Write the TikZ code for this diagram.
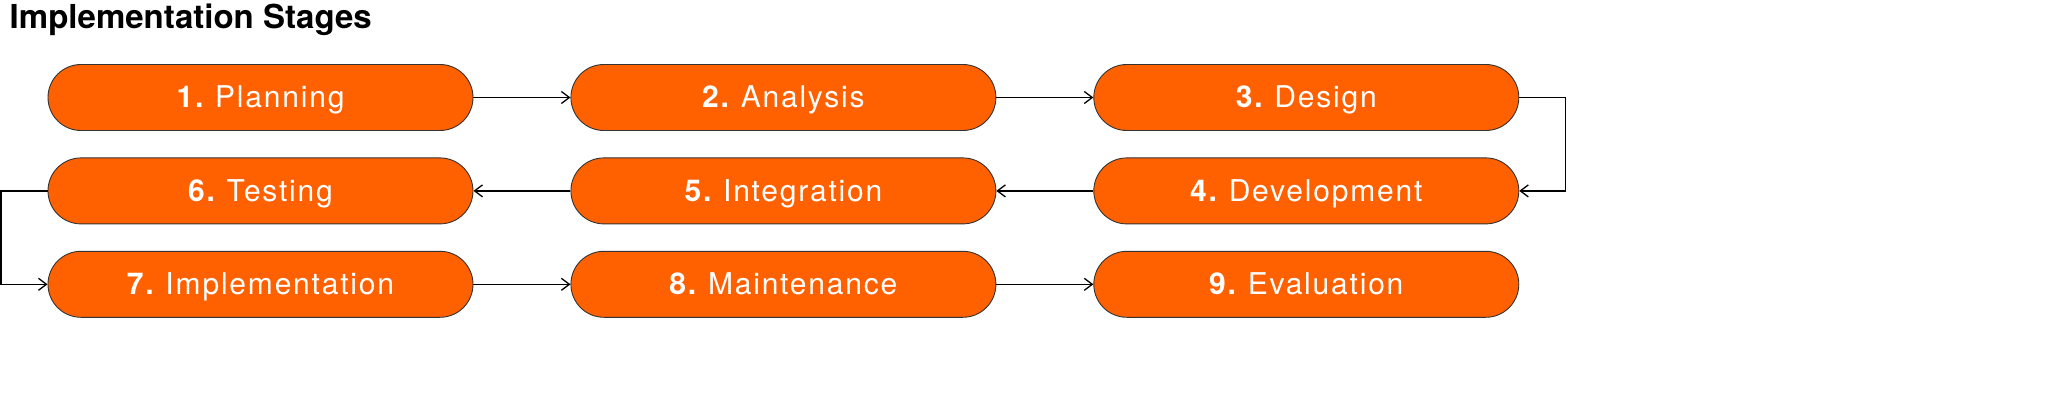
\documentclass[tikz,border=0pt]{standalone}
\usepackage{fontspec}
\setmainfont{TeX Gyre Heros}
\newfontfamily\stagefont[LetterSpace=6]{TeX Gyre Heros}
\usetikzlibrary{arrows.meta,positioning}
\definecolor{stageorange}{HTML}{FF6000}
\definecolor{stageline}{HTML}{333333}

\begin{document}
\begin{tikzpicture}[x=1pt,y=-1pt,->,>={Straight Barb[length=8pt,width=12pt]},
                    line width=1.3pt,node distance=26.5pt and 97pt]
  \tikzstyle{every stage}=[draw=stageline,line width=0.9pt,fill=stageorange,
        rounded corners=33pt,minimum width=425pt,minimum height=66pt,
        text=white,text height=21pt,text depth=0pt,inner sep=0pt,
        font=\stagefont\fontsize{30}{36}\selectfont]
  \useasboundingbox (0,0) rectangle (2048,414);

  \node[anchor=base west,inner sep=0pt,font=\bfseries\fontsize{33}{40}\selectfont]
        (title) at (9,29) {Implementation Stages};

  \node[every stage] (1) at (260.5,97.5) {\textbf{1.}\hspace{10pt}Planning};
  \node[every stage] (2) [right=of 1]    {\textbf{2.}\hspace{10pt}Analysis};
  \node[every stage] (3) [right=of 2]    {\textbf{3.}\hspace{10pt}Design};

  \node[every stage] (4) [below=of 3]    {\textbf{4.}\hspace{10pt}Development};
  \node[every stage] (5) [left=of 4]     {\textbf{5.}\hspace{10pt}Integration};
  \node[every stage] (6) [left=of 5]     {\textbf{6.}\hspace{10pt}Testing};

  \node[every stage] (7) [below=of 6]    {\textbf{7.}\hspace{10pt}Implementation};
  \node[every stage] (8) [right=of 7]    {\textbf{8.}\hspace{10pt}Maintenance};
  \node[every stage] (9) [right=of 8]    {\textbf{9.}\hspace{10pt}Evaluation};

  \path (1) edge (2)
        (2) edge (3)
        (4) edge (5)
        (5) edge (6)
        (7) edge (8)
        (8) edge (9);

  \draw (3.east) -- ++(46,0) |- (4.east);
  \draw (6.west) -- ++(-46.7,0) |- (7.west);

\end{tikzpicture}
\end{document}
